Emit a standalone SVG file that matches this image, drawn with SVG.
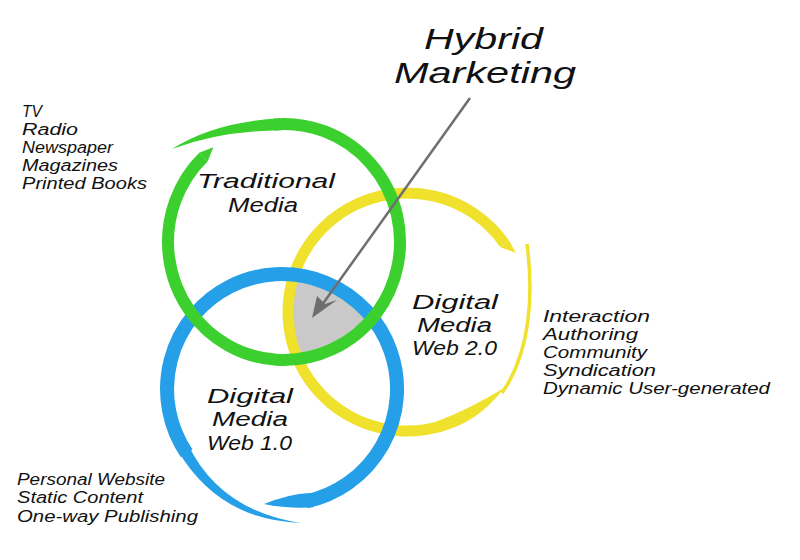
<svg xmlns="http://www.w3.org/2000/svg" width="800" height="560" viewBox="0 0 800 560">
<style>
.t{font-family:"Liberation Sans","Noto Sans",sans-serif;font-style:italic;fill:#111}
.big{font-size:29px}
.lbl{font-size:20px}
.lst{font-size:16px}
.ring{fill:none;stroke-linecap:butt}
.g{stroke:#3bd02e}
.y{stroke:#efe12c}
.b{stroke:#259fe7}
</style>
<defs>
<clipPath id="clipG"><ellipse cx="284" cy="242" rx="116" ry="118"/></clipPath>
<clipPath id="clipB"><circle cx="282" cy="389" r="115"/></clipPath>
</defs>
<rect width="800" height="560" fill="#fff"/>

<g id="hybrid-zone" clip-path="url(#clipG)">
<circle cx="407" cy="312" r="119" fill="#c9c9c9" clip-path="url(#clipB)"/>
</g>

<g id="web2">
<path class="ring y" stroke-width="3.5" d="M527,244 C533,290 532,350 502,393"/>
<path fill="#efe12c" d="M504,388 Q478,423 439.2,432.2 L436.4,421.6 Q468,410 504,388 Z"/>
<path class="ring y" stroke-width="11" d="M443.8,425.2 A119,119 0 1,1 504.5,243.7"/>
<path fill="#efe12c" d="M509,240.5 L516,253 L500,246.9 Z"/>
<text class="t lbl" x="412" y="309" textLength="86" lengthAdjust="spacingAndGlyphs">Digital</text>
<text class="t lbl" x="417" y="332" textLength="75" lengthAdjust="spacingAndGlyphs">Media</text>
<text class="t lbl" x="412" y="355" textLength="85" lengthAdjust="spacingAndGlyphs">Web 2.0</text>
</g>

<g id="web1">
<path fill="#259fe7" d="M264,504 Q288,494 309.9,492.9 L313.7,507.3 Q288,509 264,504 Z"/>
<path class="ring b" stroke-width="14" d="M305.9,501.5 A115,115 0 1,0 186.7,453.3"/>
<path fill="#259fe7" d="M177.2,449.5 Q218.5,520.2 301,523 Q219.1,510.5 187.6,443.5 Z"/>
<text class="t lbl" x="207" y="403" textLength="86" lengthAdjust="spacingAndGlyphs">Digital</text>
<text class="t lbl" x="212" y="426" textLength="76" lengthAdjust="spacingAndGlyphs">Media</text>
<text class="t lbl" x="207" y="450" textLength="85" lengthAdjust="spacingAndGlyphs">Web 1.0</text>
</g>

<g id="traditional">
<path fill="#3bd02e" d="M172,149 Q215,122 280,118.3 L281,130.3 Q220,131 172,149 Z"/>
<path class="ring g" stroke-width="12" d="M273.9,124.4 A116,118 0 1,1 203.4,157.1"/>
<path fill="#3bd02e" d="M199.2,152.8 L213.4,147.3 L207.6,161.4 Z"/>
<text class="t lbl" x="197" y="188" textLength="138" lengthAdjust="spacingAndGlyphs">Traditional</text>
<text class="t lbl" x="228" y="212" textLength="70" lengthAdjust="spacingAndGlyphs">Media</text>
</g>

<g id="connectors">
<line x1="470" y1="98" x2="322" y2="305" stroke="#6e6e6e" stroke-width="2.5"/>
<polygon points="312,318 317,296 325,304 337,300" fill="#6e6e6e"/>
</g>

<g id="title">
<text class="t big" x="424" y="49" textLength="119" lengthAdjust="spacingAndGlyphs">Hybrid</text>
<text class="t big" x="394" y="83" textLength="182" lengthAdjust="spacingAndGlyphs">Marketing</text>
</g>

<g id="list-traditional">
<text class="t lst" x="22" y="117" textLength="20" lengthAdjust="spacingAndGlyphs">TV</text>
<text class="t lst" x="22" y="135" textLength="56" lengthAdjust="spacingAndGlyphs">Radio</text>
<text class="t lst" x="22" y="153" textLength="91" lengthAdjust="spacingAndGlyphs">Newspaper</text>
<text class="t lst" x="22" y="171" textLength="96" lengthAdjust="spacingAndGlyphs">Magazines</text>
<text class="t lst" x="22" y="189" textLength="125" lengthAdjust="spacingAndGlyphs">Printed Books</text>
</g>

<g id="list-web2">
<text class="t lst" x="543" y="322" textLength="107" lengthAdjust="spacingAndGlyphs">Interaction</text>
<text class="t lst" x="543" y="340" textLength="95" lengthAdjust="spacingAndGlyphs">Authoring</text>
<text class="t lst" x="543" y="358" textLength="104" lengthAdjust="spacingAndGlyphs">Community</text>
<text class="t lst" x="543" y="376" textLength="113" lengthAdjust="spacingAndGlyphs">Syndication</text>
<text class="t lst" x="543" y="394" textLength="227" lengthAdjust="spacingAndGlyphs">Dynamic User-generated</text>
</g>

<g id="list-web1">
<text class="t lst" x="17" y="485" textLength="148" lengthAdjust="spacingAndGlyphs">Personal Website</text>
<text class="t lst" x="17" y="503" textLength="126" lengthAdjust="spacingAndGlyphs">Static Content</text>
<text class="t lst" x="17" y="522" textLength="181" lengthAdjust="spacingAndGlyphs">One-way Publishing</text>
</g>
</svg>
